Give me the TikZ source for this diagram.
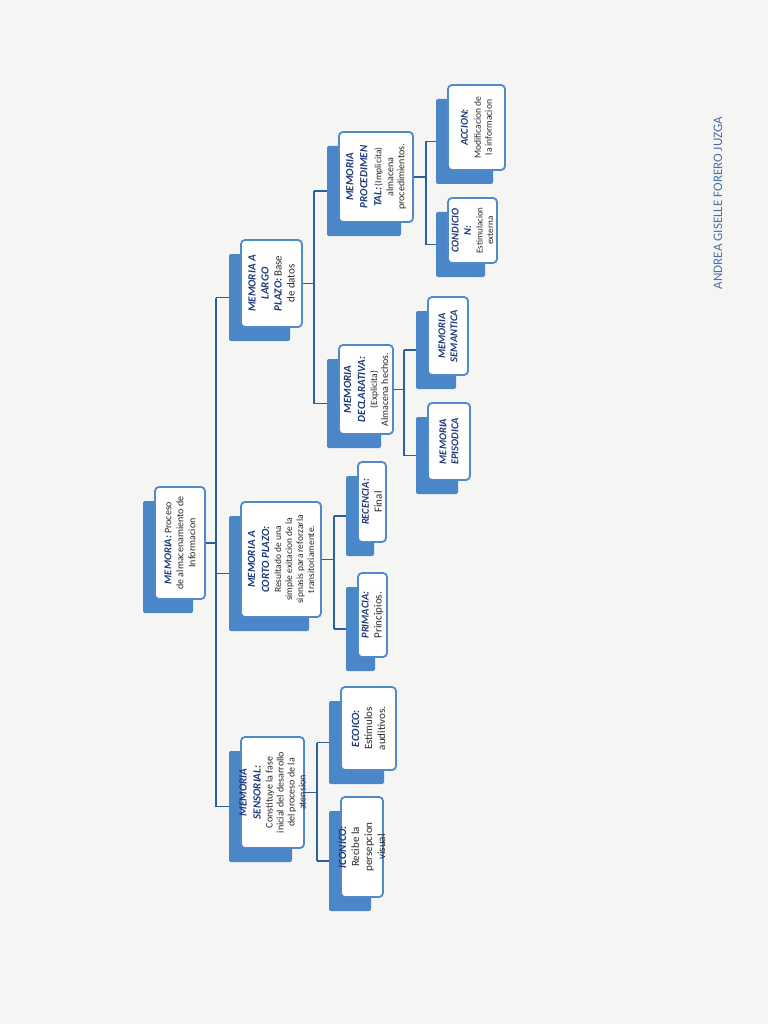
\documentclass[tikz,border=0pt]{standalone}
\usepackage{fontspec}
\setmainfont{Carlito}
\usetikzlibrary{calc}
\definecolor{paper}{HTML}{F5F5F4}
\definecolor{shadowblue}{HTML}{4A86C8}
\definecolor{edgeblue}{HTML}{4F8BCB}
\definecolor{linkblue}{HTML}{2F5E9E}
\definecolor{titlec}{HTML}{1F3A78}
\definecolor{bodyc}{HTML}{2A2A2A}
\definecolor{authorc}{HTML}{4C6FA8}
\newcommand\ttl[2]{{\fontsize{#1}{#1}\selectfont\bfseries\itshape\color{titlec}#2}}
\newcommand\bdy[2]{{\fontsize{#1}{#1}\selectfont\color{bodyc}#2}}
\tikzset{
  shadowbox/.style={draw=none, fill=shadowblue, rounded corners=2pt, inner sep=0pt},
  whitebox/.style={draw=edgeblue, line width=1.8pt, fill=white, rounded corners=4pt, inner sep=0pt},
  boxtext/.style={rotate=90, align=center, inner sep=0pt},
  conn/.style={draw=linkblue, line width=1.5pt},
}
% name, x1, y1, x2, y2, baselineskip, text
\newcommand\cmapbox[7]{%
  \pgfmathsetmacro\cbcx{(#2+#4)/2}%
  \pgfmathsetmacro\cbcy{(#3+#5)/2}%
  \pgfmathsetmacro\cbw{#4-#2}%
  \pgfmathsetmacro\cbh{#5-#3}%
  \node[shadowbox, minimum width=\cbw pt, minimum height=\cbh pt] (#1-s) at (\cbcx-12,\cbcy+14) {};
  \node[whitebox, minimum width=\cbw pt, minimum height=\cbh pt] (#1) at (\cbcx,\cbcy) {};
  \node[boxtext, font=\fontsize{8}{#6}\selectfont] (#1-t) at (\cbcx,\cbcy) {#7};
}
\begin{document}
\begin{tikzpicture}[x=1pt,y=-1pt]
\fill[paper] (0,0) rectangle (768,1024);
\useasboundingbox (0,0) rectangle (768,1024);

\cmapbox{root}{155}{487}{205}{599}{12}{\ttl{10.5}{MEMORIA:} \bdy{10}{Proceso}\\ \bdy{10}{de almacenamiento de}\\ \bdy{10}{Informacion}}
\cmapbox{corto}{241}{502}{321}{617}{11}{\ttl{11}{MEMORIA A}\\[3pt] \ttl{11}{CORTO PLAZO:}\\[1pt] \bdy{9.5}{Resultado de una}\\ \bdy{9.5}{simple exitacion de la}\\ \bdy{9.5}{sipnasis para reforzarla}\\ \bdy{9.5}{transitoriamente.}}
\cmapbox{sens}{241}{737}{304}{848}{11}{\ttl{11}{MEMORIA}\\[3pt] \ttl{11}{SENSORIAL:}\\[1pt] \bdy{10}{Constituye la fase}\\ \bdy{10}{inicial del desarrollo}\\ \bdy{10}{del proceso de la}\\ \bdy{10}{atension}}
\cmapbox{largo}{241}{240}{302}{327}{13}{\ttl{11}{MEMORIA A}\\ \ttl{11}{LARGO}\\ \ttl{11}{PLAZO:} \bdy{11}{Base}\\ \bdy{11}{de datos}}
\cmapbox{ecoico}{341}{687}{396}{770}{13}{\ttl{11}{ECOICO:}\\ \bdy{11}{Estimulos}\\ \bdy{11}{auditivos.}}
\cmapbox{iconico}{341}{797}{383}{897}{13}{\ttl{11}{ICONICO:}\\ \bdy{11}{Recibe la}\\ \bdy{11}{persepcion}\\ \bdy{11}{visual}}
\cmapbox{recencia}{358}{462}{386}{542}{13}{\ttl{10.5}{RECENCIA:}\\ \bdy{11}{Final}}
\cmapbox{primacia}{358}{573}{387}{657}{13}{\ttl{10.5}{PRIMACIA:}\\ \bdy{11}{Principios.}}
\cmapbox{declarativa}{339}{345}{393}{434}{11}{\ttl{11}{MEMORIA}\\[3pt] \ttl{11}{DECLARATIVA:}\\[1pt] \bdy{9.5}{(Explicita)}\\ \bdy{10}{Almacena hechos.}}
\cmapbox{proced}{339}{132}{413}{222}{11}{\ttl{11}{MEMORIA}\\[3pt] \ttl{11}{PROCEDIMEN}\\[3pt] \ttl{11}{TAL:} \bdy{9.5}{(Implicita)}\\[1pt] \bdy{10}{almacena}\\ \bdy{10}{procedimientos.}}
\cmapbox{semantica}{428}{297}{468}{375}{12}{\ttl{10.5}{MEMORIA}\\ \ttl{10.5}{SEMANTICA}}
\cmapbox{episodica}{428}{403}{470}{480}{12}{\ttl{10.5}{MEMORIA}\\ \ttl{10.5}{EPISODICA}}
\cmapbox{accion}{448}{85}{505}{170}{11}{\ttl{10.5}{ACCION:}\\[2pt] \bdy{9.5}{Modificacion de}\\ \bdy{9.5}{la informacion}}
\cmapbox{condicion}{448}{198}{497}{263}{10.5}{\ttl{10.5}{CONDICIO}\\[2pt] \ttl{10.5}{N:}\\[1pt] \bdy{9}{Estimulacion}\\ \bdy{9}{externa}}

% level 1
\draw[conn] (root.east) -- ++(10,0) coordinate (t0);
\draw[conn] (t0 |- largo-s.west) -- (t0 |- sens-s.west);
\foreach \c in {largo,corto,sens} \draw[conn] (t0 |- \c-s.west) -- (\c-s.west);
% sensorial
\draw[conn] (sens.east) -- ++(12,0) coordinate (t1);
\draw[conn] (t1 |- ecoico-s.west) -- (t1 |- iconico-s.west);
\foreach \c in {ecoico,iconico} \draw[conn] (t1 |- \c-s.west) -- (\c-s.west);
% corto plazo
\draw[conn] (corto.east) -- ++(12,0) coordinate (t2);
\draw[conn] (t2 |- recencia-s.west) -- (t2 |- primacia-s.west);
\foreach \c in {recencia,primacia} \draw[conn] (t2 |- \c-s.west) -- (\c-s.west);
% largo plazo
\draw[conn] (largo.east) -- ++(11,0) coordinate (t3);
\draw[conn] (t3 |- proced-s.west) -- (t3 |- declarativa-s.west);
\foreach \c in {proced,declarativa} \draw[conn] (t3 |- \c-s.west) -- (\c-s.west);
% declarativa
\draw[conn] (declarativa.east) -- ++(10,0) coordinate (t4);
\draw[conn] (t4 |- semantica-s.west) -- (t4 |- episodica-s.west);
\foreach \c in {semantica,episodica} \draw[conn] (t4 |- \c-s.west) -- (\c-s.west);
% procedimental
\draw[conn] (proced.east) -- ++(12,0) coordinate (t5);
\draw[conn] (t5 |- accion-s.west) -- (t5 |- condicion-s.west);
\foreach \c in {accion,condicion} \draw[conn] (t5 |- \c-s.west) -- (\c-s.west);

\node[rotate=90, text=authorc, font=\fontsize{13}{15}\selectfont] (author) at (718,203) {ANDREA GISELLE FORERO JUZGA};
\end{tikzpicture}
\end{document}
